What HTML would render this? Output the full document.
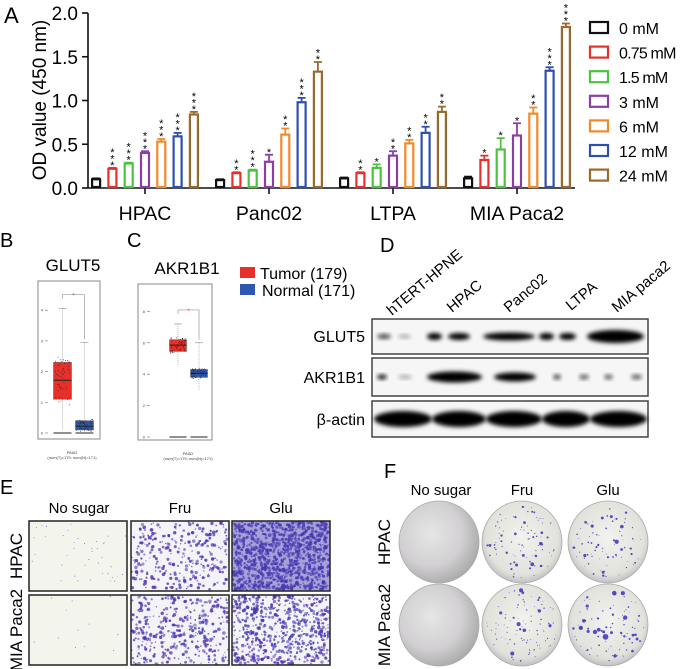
<!DOCTYPE html>
<html><head><meta charset="utf-8"><style>
body{margin:0;background:#fff;}
svg{display:block;font-family:"Liberation Sans",Arial,sans-serif;}
</style></head><body>
<svg id="fig" width="685" height="669" viewBox="0 0 685 669">
<defs>
<filter id="blur" x="-20%" y="-50%" width="140%" height="200%"><feGaussianBlur stdDeviation="2.2"/></filter>
<radialGradient id="plateEmpty" cx="40%" cy="40%" r="65%"><stop offset="0" stop-color="#e6e6e6"/><stop offset="0.6" stop-color="#d2d0d2"/><stop offset="1" stop-color="#a8a8a8"/></radialGradient>
<radialGradient id="plateFull" cx="50%" cy="45%" r="60%"><stop offset="0" stop-color="#f2f2ee"/><stop offset="0.75" stop-color="#e2e2dc"/><stop offset="1" stop-color="#b0b0b6"/></radialGradient>
</defs>
<g id="panelA">
<text x="4" y="23" font-size="22">A</text>
<g id="aAxes"></g><g id="aBars"></g><g id="aLegend"></g>
<text transform="translate(46,100) rotate(-90)" text-anchor="middle" font-size="19">OD value (450 nm)</text>
</g>
<g id="panelB">
<text x="0" y="247" font-size="20">B</text>
<text x="73" y="271" font-size="17" text-anchor="middle">GLUT5</text>
<rect x="38" y="281" width="62" height="158" fill="none" stroke="#888"/>
<g id="bPlot"></g>
<text x="72" y="454" font-size="4" text-anchor="middle" fill="#444">PAAD</text>
<text x="72" y="459" font-size="4" text-anchor="middle" fill="#444">(num(T)=179; num(N)=171)</text>
</g>
<g id="panelC">
<text x="127" y="247" font-size="20">C</text>
<text x="187" y="274" font-size="17" text-anchor="middle">AKR1B1</text>
<rect x="138" y="284" width="74" height="156" fill="none" stroke="#888"/>
<g id="cPlot"></g>
<text x="188" y="455" font-size="4" text-anchor="middle" fill="#444">PAAD</text>
<text x="188" y="460" font-size="4" text-anchor="middle" fill="#444">(num(T)=179; num(N)=171)</text>
<rect x="240" y="267" width="15" height="11" fill="#e8302b"/>
<text x="260" y="279" font-size="16">Tumor (179)</text>
<rect x="240" y="284" width="15" height="11" fill="#2e57b0"/>
<text x="262" y="296" font-size="16">Normal (171)</text>
</g>
<g id="panelD">
<text x="380" y="252" font-size="20">D</text>
<g font-size="15">
<text transform="translate(392,316) rotate(-40)">hTERT-HPNE</text>
<text transform="translate(452,313) rotate(-40)">HPAC</text>
<text transform="translate(509,313) rotate(-40)">Panc02</text>
<text transform="translate(571,311) rotate(-40)">LTPA</text>
<text transform="translate(617,313) rotate(-40)">MIA paca2</text>
</g>
<text x="365" y="342" font-size="16" text-anchor="end">GLUT5</text>
<text x="365" y="383" font-size="16" text-anchor="end">AKR1B1</text>
<text x="365" y="425" font-size="16" text-anchor="end">β-actin</text>
<g id="dBlots"></g>
</g>
<g id="panelE">
<text x="0" y="494" font-size="20">E</text>
<text x="79" y="513" font-size="15" text-anchor="middle">No sugar</text>
<text x="180" y="513" font-size="15" text-anchor="middle">Fru</text>
<text x="281" y="513" font-size="15" text-anchor="middle">Glu</text>
<text transform="translate(22,556) rotate(-90)" font-size="17" text-anchor="middle">HPAC</text>
<text transform="translate(22,630) rotate(-90)" font-size="17" text-anchor="middle">MIA Paca2</text>
<g id="eImgs"></g>
</g>
<g id="panelF">
<text x="384" y="478" font-size="20">F</text>
<text x="441" y="495" font-size="15" text-anchor="middle">No sugar</text>
<text x="522" y="495" font-size="15" text-anchor="middle">Fru</text>
<text x="608" y="495" font-size="15" text-anchor="middle">Glu</text>
<text transform="translate(390,542) rotate(-90)" font-size="17" text-anchor="middle">HPAC</text>
<text transform="translate(390,625) rotate(-90)" font-size="17" text-anchor="middle">MIA Paca2</text>
<g id="fImgs"></g>
</g>
</svg>
<script>
const NS="http://www.w3.org/2000/svg";
const categories=["HPAC","Panc02","LTPA","MIA Paca2"];
const seriesNames=["0 mM","0.75 mM","1.5 mM","3 mM","6 mM","12 mM","24 mM"];
const seriesColors=["#111","#e8302b","#4cc23f","#8a3fa8","#f08a2b","#2e4fb0","#9a6a2c"];
const valHPAC=[0.10,0.22,0.28,0.40,0.53,0.59,0.84];
const valPanc02=[0.09,0.17,0.20,0.30,0.61,0.98,1.33];
const valLTPA=[0.11,0.17,0.23,0.37,0.51,0.63,0.87];
const valMIA=[0.11,0.32,0.44,0.60,0.85,1.34,1.84];
const errHPAC=[0.01,0.01,0.01,0.02,0.03,0.04,0.03];
const errPanc02=[0.01,0.01,0.01,0.08,0.07,0.05,0.11];
const errLTPA=[0.01,0.01,0.04,0.05,0.04,0.07,0.06];
const errMIA=[0.02,0.05,0.13,0.14,0.07,0.04,0.04];
const starHPAC=[0,3,3,3,3,3,3];
const starPanc02=[0,2,3,1,2,3,2];
const starLTPA=[0,2,1,2,2,2,2];
const starMIA=[0,1,1,1,2,3,3];
const yTicks=[0,0.5,1.0,1.5,2.0];
const values=[valHPAC,valPanc02,valLTPA,valMIA];
const errs=[errHPAC,errPanc02,errLTPA,errMIA];
const stars=[starHPAC,starPanc02,starLTPA,starMIA];
function mk(t,a,p){const e=document.createElementNS(NS,t);for(const k in a)e.setAttribute(k,a[k]);if(p)p.appendChild(e);return e;}
const yS=v=>188-v*87.5;
const groupX=i=>145+i*124;
const barX=(g,s)=>groupX(g)+(s-3)*16.3;
const ax=document.getElementById('aAxes');
let yl=mk('line',{x1:88,y1:yS(0),x2:88,y2:yS(2),stroke:'#111','stroke-width':1.6},ax);


yTicks.forEach(t=>{mk('line',{x1:82,x2:88,y1:yS(t),y2:yS(t),stroke:'#111','stroke-width':1.6},ax);
 const tx=mk('text',{x:78,y:yS(t)+7,'font-size':19,'text-anchor':'end'},ax);tx.textContent=t.toFixed(1);
 
 });
let xl=mk('line',{x1:88,y1:yS(0),x2:575,y2:yS(0),stroke:'#111','stroke-width':1.6},ax);


categories.forEach((c,i)=>{mk('line',{x1:groupX(i),x2:groupX(i),y1:yS(0),y2:yS(0)+6,stroke:'#111','stroke-width':1.6},ax);
 const tx=mk('text',{x:groupX(i),y:220,'font-size':19.5,'text-anchor':'middle'},ax);tx.textContent=c;
 
 });
const bg=document.getElementById('aBars');
values.forEach((vals,g)=>vals.forEach((v,s)=>{
 const x=barX(g,s),c=seriesColors[s],top=yS(v),et=yS(v+errs[g][s]);
 mk('line',{x1:x,x2:x,y1:top,y2:et,stroke:c,'stroke-width':1.8},bg);
 mk('line',{x1:x-4,x2:x+4,y1:et,y2:et,stroke:c,'stroke-width':1.8},bg);
 const r=mk('rect',{x:x-4,y:top,width:8,height:yS(0)-top-1,fill:'#fff',stroke:c,'stroke-width':2.2},bg);
 
 
 for(let k=0;k<stars[g][s];k++){const st=mk('text',{x:x,y:et+1-k*6.5,'font-size':11,'text-anchor':'middle'},bg);st.textContent='*';}
}));
const lg=document.getElementById('aLegend');
seriesNames.forEach((n,i)=>{const y=27+i*24.6;
 const r=mk('rect',{x:590,y:y-5,width:18,height:11,fill:'#fff',stroke:seriesColors[i],'stroke-width':2.2},lg);
 
 
 const t=mk('text',{x:619,y:y+7,'font-size':16,'textLength':n.length>5?(n.length*8.2):null},lg);t.textContent=n;
 if(!(n.length>5))t.removeAttribute('textLength');
 
 });
let seed=7;function rnd(){seed=(seed*16807)%2147483647;return seed/2147483647;}
function boxplot(gid,x0,yBase,yPer,tumor,normal,ticks,cT,cN,hw){
 const g=document.getElementById(gid);
 ticks.forEach(t=>{mk('line',{x1:x0-3,x2:x0,y1:yBase-t*yPer,y2:yBase-t*yPer,stroke:'#555','stroke-width':0.5},g);
  const tx=mk('text',{x:x0-5,y:yBase-t*yPer+1.5,'font-size':4,'text-anchor':'end',fill:'#444'},g);tx.textContent=t;});
 [[tumor,'#e8302b',cT],[normal,'#2e57b0',cN]].forEach(([b,c,cx])=>{
  mk('line',{x1:cx,x2:cx,y1:yBase-b[4]*yPer,y2:yBase-b[0]*yPer,stroke:'#777','stroke-width':0.5,'stroke-dasharray':'1,1'},g);
  mk('line',{x1:cx-4,x2:cx+4,y1:yBase-b[4]*yPer,y2:yBase-b[4]*yPer,stroke:'#777','stroke-width':0.5},g);
  mk('rect',{x:cx-hw,y:yBase-b[3]*yPer,width:2*hw,height:(b[3]-b[1])*yPer,fill:c,stroke:'#555','stroke-width':0.5},g);
  mk('line',{x1:cx-hw,x2:cx+hw,y1:yBase-b[2]*yPer,y2:yBase-b[2]*yPer,stroke:'#222','stroke-width':1},g);
  for(let i=0;i<50;i++){const v=b[1]+(b[3]-b[1])*(rnd()*1.3-0.15);mk('circle',{cx:cx-hw+1+2*(hw-1)*rnd(),cy:yBase-v*yPer,r:0.45,fill:'#222'},g);}
  mk('line',{x1:cx-hw,x2:cx+hw,y1:yBase,y2:yBase,stroke:'#222','stroke-width':1},g);
 });
 const topY=yBase-tumor[4]*yPer-14;
 mk('path',{d:`M${cT} ${topY+4}V${topY}H${cN}V${yBase-normal[4]*yPer-3}`,fill:'none',stroke:'#999','stroke-width':0.7},g);
 const s=mk('text',{x:(cT+cN)/2,y:topY+3,'font-size':6,fill:'#e8302b','text-anchor':'middle'},g);s.textContent='*';
}
const glutTumor=[0.1,1.1,1.72,2.3,4.05];
const glutNormal=[0,0.1,0.22,0.4,2.95];
const akrTumor=[4.5,5.45,5.85,6.2,7.2];
const akrNormal=[3.0,3.8,4.05,4.3,6.0];
boxplot('bPlot',48,433,30.7,glutTumor,glutNormal,[0,1,2,3,4],62.5,84.5,9);
boxplot('cPlot',150,437,15.7,akrTumor,akrNormal,[0,2,4,6,8],178,199,8.5);
const dg=document.getElementById('dBlots');
const rows=[[319,35],[358,38],[401,36]];
const bands=[
 [[377,391,2.5,0.7],[398,411,2,0.3],[427,442,3.5,1],[448,470,3.5,1],[483,535,4,1],[539,554,3.5,1],[559,576,3.5,1],[587,644,6.5,1]],
 [[377,387,2.5,0.9],[398,412,2,0.3],[427,482,5.5,1],[494,536,4.5,1],[553,561,2.5,0.7],[579,589,2.5,0.6],[604,613,2.5,0.6],[631,642,2.5,0.6]],
 [[374,432,8,1],[432,486,8,1],[486,542,8,1],[542,590,8,1],[590,647,8,1]]];
rows.forEach(([y,h],ri)=>{
 const r=mk('rect',{x:372,y:y,width:276,height:h,fill:'#f6f6f6',stroke:'#444','stroke-width':1.5},dg);
 
 
 bands[ri].forEach(([a,b,t,o])=>mk('ellipse',{cx:(a+b)/2,cy:y+h/2,rx:(b-a)/2,ry:t,fill:'#000',opacity:o,filter:'url(#blur)'},dg));
});
const eg=document.getElementById('eImgs');
const eCols=[29,131,232],eRows=[521,595],eW=98,eH=70;
const dens=[[40,300,1100],[12,380,600]];
eRows.forEach((y,ri)=>eCols.forEach((x,ci)=>{
 const bgc=ci==2&&ri==0?'#a6a2d8':(ci==0?'#f3f4ec':'#f4f4f8');
 mk('rect',{x:x,y:y,width:eW,height:eH,fill:bgc},eg);
 const n=dens[ri][ci];
 for(let i=0;i<n;i++){mk('circle',{cx:x+1+rnd()*(eW-2),cy:y+1+rnd()*(eH-2),r:ci==0?0.5:0.6+rnd()*1.2,fill:'#4636b0',opacity:0.5+0.4*rnd()},eg);}
 const r=mk('rect',{x:x,y:y,width:eW,height:eH,fill:'none',stroke:'#222','stroke-width':1.5},eg);
 
 
}));
const fg=document.getElementById('fImgs');
const fX=[439,522,608],fY=[542,625];
const fDots=[[0,90,80],[0,100,90]];
fY.forEach((cy,ri)=>fX.forEach((cx,ci)=>{
 const e=mk('ellipse',{cx:cx,cy:cy,rx:40,ry:41,fill:ci==0?'url(#plateEmpty)':'url(#plateFull)',stroke:'#aaa','stroke-width':0.8},fg);
 
 
 for(let i=0;i<fDots[ri][ci];i++){const a=rnd()*6.283,rr=Math.sqrt(rnd())*36;
  mk('circle',{cx:cx+Math.cos(a)*rr,cy:cy+Math.sin(a)*rr,r:0.4+rnd()*rnd()*rnd()*3,fill:'#3a2fc0',opacity:0.85},fg);}
}));
</script>
</body></html>
